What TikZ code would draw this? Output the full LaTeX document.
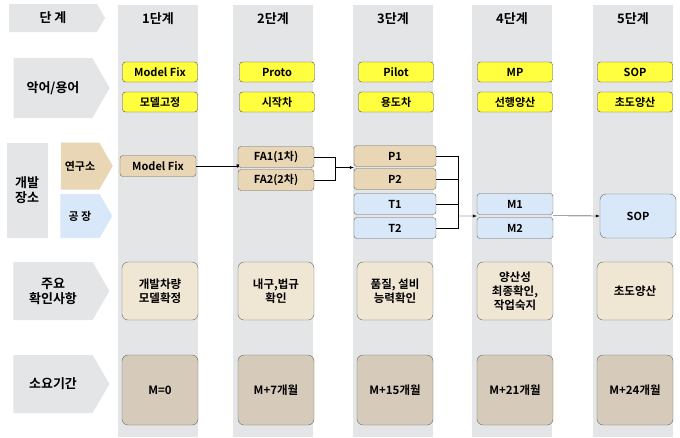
\documentclass[tikz,border=0pt]{standalone}
\usepackage{fontspec}
\setmainfont{Noto Sans CJK KR}[BoldFont={* Bold}]
\usetikzlibrary{shapes.symbols,arrows.meta,calc}
\definecolor{marble}{HTML}{E4E5E7}
\definecolor{sand}{HTML}{E8D6B4}
\definecolor{sky}{HTML}{D9E8F8}
\definecolor{lemon}{HTML}{FFFF40}
\definecolor{cream}{HTML}{EFE6D4}
\definecolor{mocha}{HTML}{D6CBBB}
\tikzset{
  col/.style={fill=marble, minimum width=80pt, minimum height=432pt, inner sep=0pt},
  tag/.style={signal, signal to=east, signal pointer angle=120, fill=marble, inner sep=0pt, font=\bfseries\fontsize{13pt}{15pt}\selectfont, align=center},
  term/.style={draw=black!70, rounded corners=3pt, fill=lemon, minimum width=75pt, minimum height=20pt, inner sep=0pt, font=\bfseries\fontsize{11pt}{12pt}\selectfont},
  box/.style={draw=black!60, rounded corners=3pt, minimum width=76pt, minimum height=21pt, inner sep=0pt, font=\bfseries\fontsize{11pt}{12pt}\selectfont},
  check/.style={draw=black!60, rounded corners=6pt, fill=cream, minimum width=76pt, minimum height=58pt, inner sep=0pt, align=center, font=\bfseries\fontsize{11.5pt}{14pt}\selectfont},
  span/.style={draw=black!60, rounded corners=6pt, fill=mocha, minimum width=76pt, minimum height=70pt, inner sep=0pt, font=\bfseries\fontsize{11.5pt}{14pt}\selectfont},
  link/.style={-{Latex[length=4pt,width=3pt]}, black}
}
\begin{document}
\begin{tikzpicture}[x=1pt, y=-1pt]
  \useasboundingbox (0,0) rectangle (680,437);
  % columns
  \foreach \cx/\name [count=\i] in {158/1단계, 273/2단계, 393/3단계, 512/4단계, 633/5단계} {
    \node[col] (col\i) at (\cx, 221) {};
    \node[font=\bfseries\fontsize{13pt}{15pt}\selectfont] (head\i) at (\cx, 19) {\name};
  }
  % row tags
  \node[tag, minimum width=96pt, minimum height=28pt] (tstep) at (53, 18) {단 계};
  \node[tag, minimum width=96pt, minimum height=60pt] (tterm) at (53, 88) {악어/용어};
  \node[fill=marble, minimum width=41pt, minimum height=95pt, inner sep=0pt, font=\bfseries\fontsize{13pt}{15pt}\selectfont, align=center] (tsite) at (27, 190) {개발\\장소};
  \node[tag, fill=sand, minimum width=52pt, minimum height=47pt, font=\bfseries\fontsize{11pt}{13pt}\selectfont] (tlab) at (80, 166) {연구소};
  \node[tag, fill=sky, minimum width=52pt, minimum height=44pt, font=\bfseries\fontsize{11pt}{13pt}\selectfont] (tfab) at (80, 216) {공 장};
  \node[tag, minimum width=96pt, minimum height=58pt] (tcheck) at (53, 291) {주요\\확인사항};
  \node[tag, minimum width=96pt, minimum height=58pt] (tspan) at (53, 384) {소요기간};
  % terms
  \foreach \cx/\en/\ko [count=\i] in {160/Model Fix/모델고정, 277/Proto/시작차, 396/Pilot/용도차, 515/MP/선행양산, 635/SOP/초도양산} {
    \node[term] (en\i) at (\cx, 72) {\en};
    \node[term] (ko\i) at (\cx, 102) {\ko};
  }
  % development sites
  \node[box, fill=sand] (fix) at (158, 166) {Model Fix};
  \node[box, fill=sand] (fa1) at (276, 157) {FA1(1차)};
  \node[box, fill=sand] (fa2) at (276, 180) {FA2(2차)};
  \node[box, fill=sand, minimum width=82pt] (p1) at (395, 156) {P1};
  \node[box, fill=sand, minimum width=82pt] (p2) at (395, 179) {P2};
  \node[box, fill=sky, minimum width=82pt] (t1) at (395, 204) {T1};
  \node[box, fill=sky, minimum width=82pt] (t2) at (395, 228) {T2};
  \node[box, fill=sky] (m1) at (515, 204) {M1};
  \node[box, fill=sky] (m2) at (515, 228) {M2};
  \node[box, fill=sky, rounded corners=6pt, minimum height=44pt] (sop) at (638, 216) {SOP};
  \coordinate (in2) at ($(fa1.south west)!0.5!(fa2.north west)$);
  \coordinate (in3) at ($(p1.south west)!0.5!(p2.north west)$);
  \coordinate (in4) at ($(m1.south west)!0.5!(m2.north west)$);
  % connectors
  \draw[link] (fix.east) -- (fix.east -| in2) -- (in2);
  \draw (fa1.east) -- (335, 157) -- (335, 180) -- (fa2.east);
  \draw[link] (335, 168) -- (335, 167.5 |- in3) -- (in3);
  \draw (p1.east) -- (458, 156) -- (458, 228) -- (t2.east);
  \draw (p2.east) -- (458, 179) (t1.east) -- (458, 204);
  \draw[link] (458, 216) -- (in4);
  \draw[link] (m1.south east) ++(0,1) -- (sop.west);
  % checks and durations
  \foreach \cx/\chk/\dur [count=\i] in {160/개발차량\\모델확정/M=0, 276/내구{,}법규\\확인/M+7개월, 395/품질{,} 설비\\능력확인/M+15개월, 515/양산성\\최종확인{,}\\작업숙지/M+21개월, 635/초도양산/M+24개월} {
    \node[check] (chk\i) at (\cx, 291) {\chk};
    \node[span] (dur\i) at (\cx, 390) {\dur};
  }
\end{tikzpicture}
\end{document}
